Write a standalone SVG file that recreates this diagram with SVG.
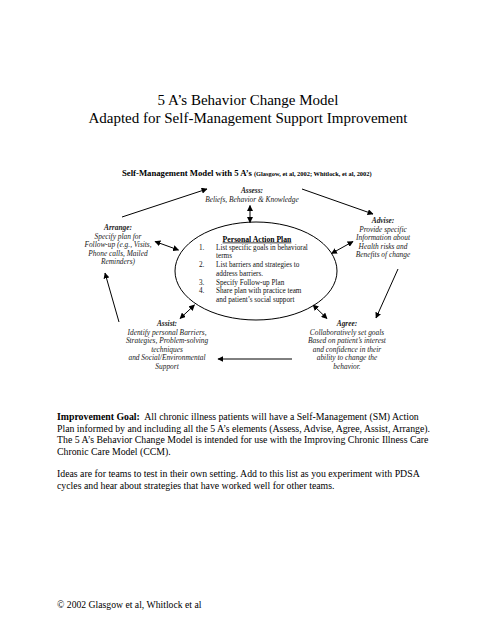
<svg xmlns="http://www.w3.org/2000/svg" width="495" height="640" viewBox="0 0 495 640">
<style>
text{font-family:"Liberation Serif","Times New Roman",serif;fill:#000}
.t{font-size:15px;text-anchor:middle}
.lbl{font-size:7.4px;font-style:italic;text-anchor:middle;fill:#222}
.lh{font-weight:bold}
.pl{font-size:7.2px;font-weight:normal;fill:#111}
.body{font-size:9.8px}
.ln{stroke:#000;stroke-width:1;fill:none}
</style>
<defs>
<marker id="ah" viewBox="0 0 10 10" refX="9" refY="5" markerWidth="6" markerHeight="6" markerUnits="userSpaceOnUse" orient="auto-start-reverse">
<path d="M0,0 L10,5 L0,10 z" fill="#000"/>
</marker>
</defs>
<rect width="495" height="640" fill="#fff"/>
<g id="title">
<text class="t" x="248" y="105">5 A’s Behavior Change Model</text>
<text class="t" x="248" y="123">Adapted for Self-Management Support Improvement</text>
</g>
<g id="subtitle">
<text x="122" y="176" style="font-size:8.7px;font-weight:bold">Self-Management Model with 5 A’s <tspan style="font-size:6.4px">(Glasgow, et al, 2002; Whitlock, et al, 2002)</tspan></text>
</g>
<g id="assess">
<text class="lbl" x="252" y="193"><tspan class="lh">Assess:</tspan><tspan x="252" dy="8.5">Beliefs, Behavior &amp; Knowledge</tspan></text>
</g>
<g id="advise">
<text class="lbl" x="383" y="223"><tspan class="lh">Advise:</tspan><tspan x="383" dy="8.6">Provide specific</tspan><tspan x="383" dy="8.6">Information about</tspan><tspan x="383" dy="8.6">Health risks and</tspan><tspan x="383" dy="8.6">Benefits of change</tspan></text>
</g>
<g id="arrange">
<text class="lbl" x="118" y="230"><tspan class="lh">Arrange:</tspan><tspan x="118" dy="8.5">Specify plan for</tspan><tspan x="118" dy="8.5">Follow-up (e.g., Visits,</tspan><tspan x="118" dy="8.5">Phone calls, Mailed</tspan><tspan x="118" dy="8.5">Reminders)</tspan></text>
</g>
<g id="assist">
<text class="lbl" x="167" y="326"><tspan class="lh">Assist:</tspan><tspan x="167" dy="8.5">Identify personal Barriers,</tspan><tspan x="167" dy="8.5">Strategies, Problem-solving</tspan><tspan x="167" dy="8.5">techniques</tspan><tspan x="167" dy="8.5">and Social/Environmental</tspan><tspan x="167" dy="8.5">Support</tspan></text>
</g>
<g id="agree">
<text class="lbl" x="347" y="326"><tspan class="lh">Agree:</tspan><tspan x="347" dy="8.5">Collaboratively set goals</tspan><tspan x="347" dy="8.5">Based on patient’s interest</tspan><tspan x="347" dy="8.5">and confidence in their</tspan><tspan x="347" dy="8.5">ability to change the</tspan><tspan x="347" dy="8.5">behavior.</tspan></text>
</g>
<g id="plan">
<ellipse cx="256" cy="271" rx="81" ry="49" class="ln"/>
<text x="257" y="241.5" text-anchor="middle" style="font-size:7.7px;font-weight:bold;text-decoration:underline">Personal Action Plan</text>
<text class="pl" x="199" y="250">1.<tspan x="216">List specific goals in behavioral</tspan><tspan x="216" dy="8.3">terms</tspan><tspan x="199" dy="9">2.</tspan><tspan x="216">List barriers and strategies to</tspan><tspan x="216" dy="8.5">address barriers.</tspan><tspan x="199" dy="9">3.</tspan><tspan x="216">Specify Follow-up Plan</tspan><tspan x="199" dy="8.5">4.</tspan><tspan x="216">Share plan with practice team</tspan><tspan x="216" dy="8.5">and patient’s social support</tspan></text>
</g>
<g id="connectors">
<line class="ln" x1="122" y1="217" x2="207" y2="189" marker-end="url(#ah)"/>
<line class="ln" x1="302" y1="189" x2="373" y2="214" marker-end="url(#ah)"/>
<line class="ln" x1="398" y1="269" x2="376" y2="318" marker-end="url(#ah)"/>
<line class="ln" x1="292" y1="359" x2="218" y2="359" marker-end="url(#ah)"/>
<line class="ln" x1="119" y1="322" x2="105" y2="273" marker-end="url(#ah)"/>
<line class="ln" x1="250" y1="205.5" x2="250" y2="222.5" marker-start="url(#ah)" marker-end="url(#ah)"/>
<line class="ln" x1="155" y1="241.5" x2="178.5" y2="250" marker-start="url(#ah)" marker-end="url(#ah)"/>
<line class="ln" x1="331.5" y1="253.5" x2="353" y2="241.5" marker-start="url(#ah)" marker-end="url(#ah)"/>
<line class="ln" x1="313" y1="305" x2="327" y2="318.5" marker-start="url(#ah)" marker-end="url(#ah)"/>
<line class="ln" x1="194.5" y1="305" x2="180" y2="318.5" marker-start="url(#ah)" marker-end="url(#ah)"/>
</g>
<g id="body">
<text class="body" x="57" y="420"><tspan font-weight="bold">Improvement Goal:</tspan>&#160; All chronic illness patients will have a Self-Management (SM) Action</text>
<text class="body" x="57" y="431.5">Plan informed by and including all the 5 A’s elements (Assess, Advise, Agree, Assist, Arrange).</text>
<text class="body" x="57" y="443">The 5 A’s Behavior Change Model is intended for use with the Improving Chronic Illness Care</text>
<text class="body" x="57" y="454.5">Chronic Care Model (CCM).</text>
<text class="body" x="57" y="477">Ideas are for teams to test in their own setting. Add to this list as you experiment with PDSA</text>
<text class="body" x="57" y="488.5">cycles and hear about strategies that have worked well for other teams.</text>
</g>
<g id="footer">
<text x="57" y="607.5" style="font-size:9.7px">© 2002 Glasgow et al, Whitlock et al</text>
</g>
</svg>
